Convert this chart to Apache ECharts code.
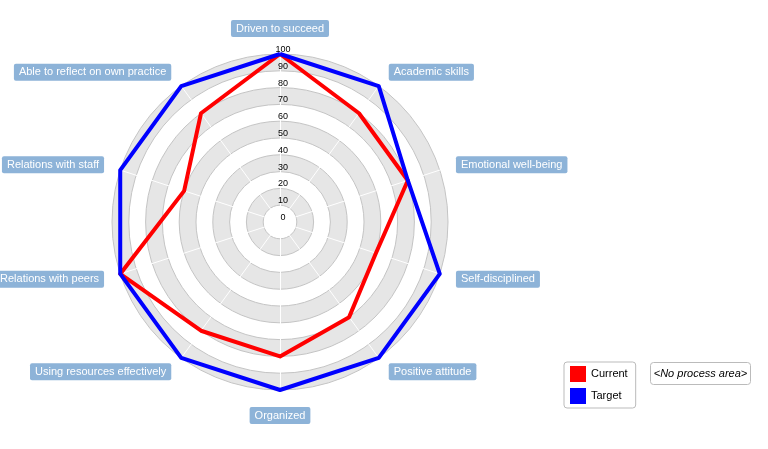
<!DOCTYPE html>
<html>
<head>
<meta charset="utf-8">
<script src="https://cdn.jsdelivr.net/npm/echarts@6/dist/echarts.min.js"></script>
<style>
  html, body { margin: 0; padding: 0; background: #fff; }
  #chart { width: 768px; height: 449px; }
</style>
</head>
<body>
<div id="chart"></div>
<script>
// indicators listed counter-clockwise from top (ECharts radar direction)
const indicators = ['Driven to succeed', 'Able to reflect on own practice', 'Relations with staff',
  'Relations with peers', 'Using resources effectively', 'Organized', 'Positive attitude',
  'Self-disciplined', 'Emotional well-being', 'Academic skills'];
const currentValues = [100, 80, 60, 100, 80, 80, 70, 60, 80, 80];
const targetValues = [100, 100, 100, 100, 100, 100, 100, 100, 80, 100];
const scaleMax = 100;

const center = [280, 222];
const radius = 168;

const chart = echarts.init(document.getElementById('chart'));
chart.setOption({
  animation: false,
  textStyle: { fontFamily: 'Liberation Sans, Arial, sans-serif' },
  legend: {
    data: ['Current', 'Target'],
    orient: 'vertical',
    left: 564, top: 362,
    icon: 'rect', itemWidth: 16, itemHeight: 16, itemGap: 6,
    padding: [4, 8, 4, 6],
    borderColor: '#bbb', borderWidth: 1, borderRadius: 3,
    textStyle: { fontSize: 11, color: '#000' }
  },
  radar: {
    center: center, radius: radius, startAngle: 90,
    splitNumber: 10, shape: 'circle',
    indicator: indicators.map(n => ({ name: n, max: scaleMax, min: 0 })),
    axisName: {
      color: '#fff', backgroundColor: '#8db3d8', borderRadius: 2,
      padding: [3, 5], fontSize: 11
    },
    nameGap: 17,
    splitArea: { areaStyle: { color: ['#fff', '#e6e6e6'] } },
    splitLine: { lineStyle: { color: '#c4c4c4' } },
    axisLine: { lineStyle: { color: '#fff', width: 1 } }
  },
  polar: { center: center, radius: radius },
  angleAxis: { show: false, startAngle: 90, min: 0, max: 360 },
  radiusAxis: {
    min: 0, max: scaleMax, interval: 10,
    axisLine: { show: false }, axisTick: { show: false }, splitLine: { show: false },
    axisLabel: { fontSize: 9, color: '#000', margin: -3, align: 'center', verticalAlign: 'bottom' },
    z: 10
  },
  series: [{
    type: 'radar',
    symbol: 'none',
    z: 5,
    data: [
      { name: 'Current', value: currentValues, lineStyle: { color: '#ff0000', width: 4 }, itemStyle: { color: '#ff0000' } },
      { name: 'Target', value: targetValues, lineStyle: { color: '#0000ff', width: 4 }, itemStyle: { color: '#0000ff' } }
    ]
  }],
  graphic: [{
    type: 'group', left: 650, top: 362,
    children: [
      { type: 'rect', shape: { x: 0, y: 0, width: 100, height: 22, r: 3 }, style: { fill: '#fff', stroke: '#bbb' } },
      { type: 'text', x: 50, y: 11, style: { text: '<No process area>', fontStyle: 'italic', fontSize: 11, fill: '#000', align: 'center', verticalAlign: 'middle' } }
    ]
  }]
});
</script>
</body>
</html>
